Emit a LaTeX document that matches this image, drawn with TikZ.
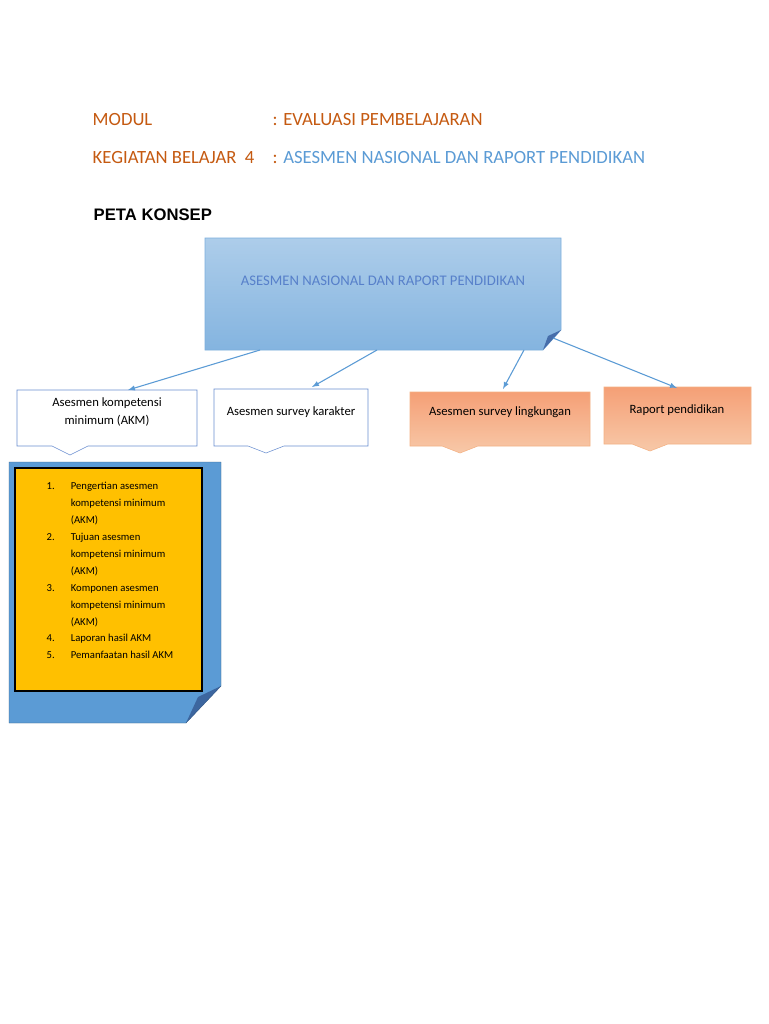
\documentclass[tikz,border=0pt]{standalone}
\usepackage{fontspec}
\setmainfont{Carlito}
\newfontfamily\arialf{Liberation Sans}
\usetikzlibrary{shapes.callouts}
\definecolor{org}{HTML}{C55A11}
\definecolor{lblue}{HTML}{5B9BD5}
\definecolor{edgeb}{HTML}{4472C4}
\definecolor{salmon}{HTML}{F4B183}
\definecolor{gold}{HTML}{FFC000}
\begin{document}
\begin{tikzpicture}[x=0.75pt,y=-0.75pt,
  hdr/.style={anchor=west,text=org,font=\fontsize{14}{16}\selectfont},
  arr/.style={draw=lblue,-latex,line width=0.8pt},
  lbl/.style={font=\fontsize{9.5}{13}\selectfont,align=center}]
\useasboundingbox (0,0) rectangle (768,1024);
\fill[white] (0,0) rectangle (768,1024);
% header
\node[hdr] (m1) at (88,120) {MODUL};
\node[hdr] (m2) at (268,120) {: EVALUASI PEMBELAJARAN};
\node[hdr] (k1) at (88,158) {KEGIATAN BELAJAR\ \ 4};
\node[hdr] (k2) at (268,158) {: \textcolor{lblue}{ASESMEN NASIONAL DAN RAPORT PENDIDIKAN}};
\node[anchor=west,font=\arialf\bfseries\fontsize{12.5}{14}\selectfont] (pk) at (89,215) {PETA KONSEP};
% top box
\shade[top color=lblue!50,bottom color=lblue!75,draw=lblue!80] (205,238) -- (561,238) -- (561,330) -- (543,350) -- (205,350) -- cycle;
\fill[edgeb!80!black,opacity=0.8] (543,350) -- (561,330) -- (548,336) -- cycle;
\node[text=edgeb!90,font=\fontsize{11}{13}\selectfont] (top) at (383,281) {ASESMEN NASIONAL DAN RAPORT PENDIDIKAN};
\coordinate (t1) at (260,350);
\coordinate (t2) at (377,350);
\coordinate (t3) at (524,350);
\coordinate (t4) at (553,338);
% boxes
\draw[edgeb!80,fill=white] (17,390) -- (197,390) -- (197,446) -- (88,446) -- (70,455) -- (52,446) -- (17,446) -- cycle;
\coordinate (b1) at (128,390);
\node[lbl] (n1) at (107,412) {Asesmen kompetensi\\minimum (AKM)};
\draw[edgeb!80,fill=white] (214,389) -- (368,389) -- (368,446) -- (284,446) -- (266,453) -- (248,446) -- (214,446) -- cycle;
\coordinate (b2) at (312,387);
\node[lbl] (n2) at (291,412) {Asesmen survey karakter};
\shade[top color=salmon!90!red,bottom color=salmon!70,draw=salmon] (410,392) -- (590,392) -- (590,446) -- (478,446) -- (460,453) -- (442,446) -- (410,446) -- cycle;
\coordinate (b3) at (503,389);
\node[lbl] (n3) at (500,412) {Asesmen survey lingkungan};
\shade[top color=salmon!90!red,bottom color=salmon!70,draw=salmon] (604,387) -- (751,387) -- (751,444) -- (668,444) -- (650,451) -- (632,444) -- (604,444) -- cycle;
\coordinate (b4) at (677,388);
\node[lbl] (n4) at (677,410) {Raport pendidikan};
\draw[arr] (t1) -- (b1);
\draw[arr] (t2) -- (b2);
\draw[arr] (t3) -- (b3);
\draw[arr] (t4) -- (b4);
% yellow list
\fill[lblue] (9,462) -- (221,462) -- (221,686) -- (186,723) -- (9,723) -- cycle;
\draw[lblue!60!black,line width=0.3pt] (9,462) -- (221,462) -- (221,686) -- (186,723) -- (9,723) -- cycle;
\fill[edgeb!70!black,opacity=0.7] (186,723) -- (221,686) -- (198,697) -- cycle;
\draw[black,fill=gold,line width=0.8pt] (15,468) rectangle (202,691);
\node[anchor=north west,font=\fontsize{8}{12.7}\selectfont,align=left] (list) at (42,473) {%
\begin{tabular}{@{}l@{\hspace{12pt}}l@{}}
1. & Pengertian asesmen\\ & kompetensi minimum\\ & (AKM)\\
2. & Tujuan asesmen\\ & kompetensi minimum\\ & (AKM)\\
3. & Komponen asesmen\\ & kompetensi minimum\\ & (AKM)\\
4. & Laporan hasil AKM\\
5. & Pemanfaatan hasil AKM
\end{tabular}};
\end{tikzpicture}
\end{document}
